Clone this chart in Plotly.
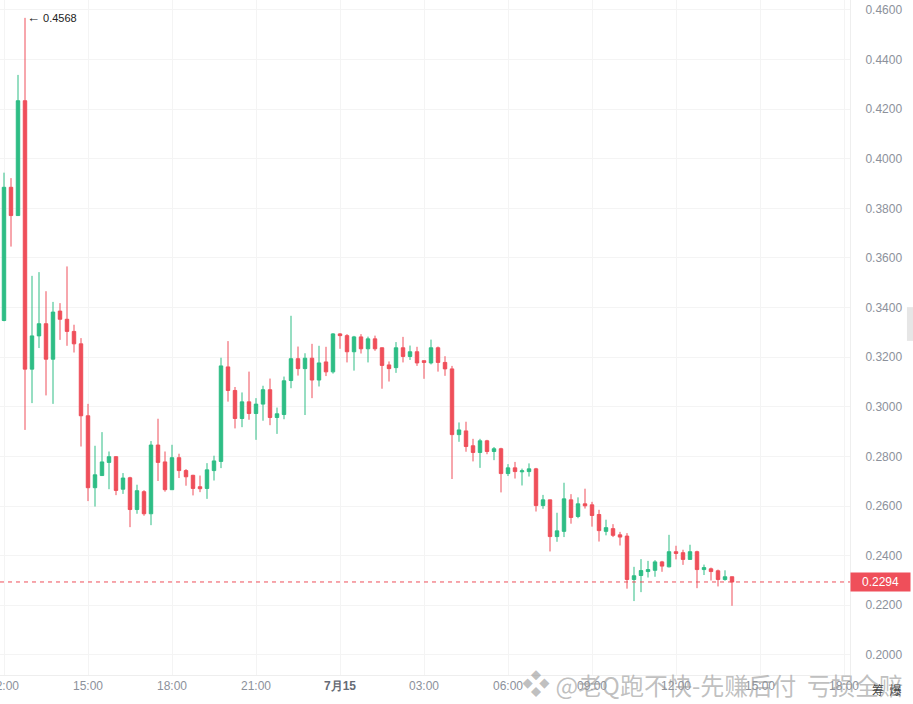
import pandas as pd
import plotly.graph_objects as go

# 15-minute candles, 14 Jul 12:00 -> 15 Jul 14:00
start_time = "2025-07-14 12:00"

opens = [0.3348, 0.3885, 0.3771, 0.4234, 0.3152, 0.3286, 0.3335, 0.3192, 0.3386, 0.3353,
         0.3304, 0.3254, 0.2964, 0.2674, 0.2723, 0.2776, 0.2799, 0.2668, 0.2714, 0.2586,
         0.2658, 0.2569, 0.2846, 0.2778, 0.2666, 0.2795, 0.2743, 0.2724, 0.2678, 0.2671,
         0.2743, 0.2780, 0.3161, 0.3066, 0.2953, 0.3020, 0.2973, 0.3011, 0.3069, 0.2957,
         0.2969, 0.3106, 0.3194, 0.3154, 0.3196, 0.3108, 0.3181, 0.3141, 0.3294, 0.3287,
         0.3222, 0.3282, 0.3234, 0.3274, 0.3238, 0.3169, 0.3158, 0.3238, 0.3203, 0.3222,
         0.3186, 0.3177, 0.3238, 0.3179, 0.3153, 0.2888, 0.2903, 0.2843, 0.2816, 0.2863,
         0.2820, 0.2831, 0.2731, 0.2754, 0.2738, 0.2739, 0.2750, 0.2602, 0.2625, 0.2477,
         0.2498, 0.2625, 0.2558, 0.2609, 0.2605, 0.2566, 0.2498, 0.2509, 0.2484, 0.2479,
         0.2304, 0.2320, 0.2336, 0.2341, 0.2375, 0.2355, 0.2416, 0.2412, 0.2385, 0.2416,
         0.2344, 0.2347, 0.2339, 0.2304, 0.2315]
highs = [0.3944, 0.3922, 0.4338, 0.4568, 0.3528, 0.3543, 0.3466, 0.3423, 0.3418, 0.3566,
         0.3331, 0.3277, 0.3012, 0.2843, 0.2898, 0.2820, 0.2801, 0.2733, 0.2718, 0.2686,
         0.2664, 0.2862, 0.2952, 0.2820, 0.2847, 0.2811, 0.2749, 0.2726, 0.2723, 0.2773,
         0.2803, 0.3198, 0.3265, 0.3080, 0.3058, 0.3142, 0.3035, 0.3085, 0.3114, 0.2997,
         0.3122, 0.3367, 0.3243, 0.3216, 0.3254, 0.3246, 0.3242, 0.3297, 0.3297, 0.3293,
         0.3286, 0.3293, 0.3283, 0.3287, 0.3239, 0.3183, 0.3261, 0.3282, 0.3247, 0.3242,
         0.3186, 0.3271, 0.3243, 0.3204, 0.3165, 0.2937, 0.2940, 0.2871, 0.2871, 0.2867,
         0.2838, 0.2835, 0.2769, 0.2778, 0.2751, 0.2772, 0.2754, 0.2645, 0.2625, 0.2573,
         0.2694, 0.2648, 0.2635, 0.2670, 0.2617, 0.2585, 0.2545, 0.2527, 0.2496, 0.2491,
         0.2355, 0.2386, 0.2379, 0.2382, 0.2379, 0.2484, 0.2440, 0.2424, 0.2444, 0.2420,
         0.2364, 0.2352, 0.2344, 0.2341, 0.2315]
lows = [0.3345, 0.3646, 0.3771, 0.2907, 0.3015, 0.3237, 0.3046, 0.3012, 0.3270, 0.3246,
        0.3219, 0.2840, 0.2620, 0.2598, 0.2723, 0.2668, 0.2644, 0.2649, 0.2515, 0.2569,
        0.2561, 0.2523, 0.2701, 0.2658, 0.2666, 0.2713, 0.2682, 0.2643, 0.2656, 0.2629,
        0.2703, 0.2753, 0.3021, 0.2913, 0.2918, 0.2948, 0.2867, 0.2944, 0.2926, 0.2891,
        0.2950, 0.3075, 0.3126, 0.2967, 0.3035, 0.3082, 0.3124, 0.3134, 0.3234, 0.3179,
        0.3146, 0.3215, 0.3179, 0.3226, 0.3073, 0.3102, 0.3137, 0.3179, 0.3189, 0.3165,
        0.3113, 0.3171, 0.3142, 0.3125, 0.2709, 0.2859, 0.2819, 0.2780, 0.2754, 0.2809,
        0.2785, 0.2655, 0.2721, 0.2711, 0.2683, 0.2719, 0.2578, 0.2589, 0.2417, 0.2456,
        0.2475, 0.2529, 0.2551, 0.2590, 0.2517, 0.2457, 0.2482, 0.2475, 0.2441, 0.2267,
        0.2217, 0.2253, 0.2312, 0.2315, 0.2335, 0.2353, 0.2385, 0.2363, 0.2385, 0.2269,
        0.2322, 0.2300, 0.2276, 0.2299, 0.2198]
closes = [0.3885, 0.3771, 0.4234, 0.3152, 0.3286, 0.3335, 0.3192, 0.3382, 0.3353, 0.3304,
          0.3254, 0.2964, 0.2674, 0.2726, 0.2778, 0.2799, 0.2663, 0.2713, 0.2586, 0.2662,
          0.2569, 0.2846, 0.2776, 0.2666, 0.2795, 0.2743, 0.2718, 0.2671, 0.2670, 0.2746,
          0.2782, 0.3165, 0.3066, 0.2953, 0.3020, 0.2973, 0.3011, 0.3069, 0.2957, 0.2972,
          0.3105, 0.3194, 0.3154, 0.3196, 0.3108, 0.3177, 0.3141, 0.3294, 0.3287, 0.3222,
          0.3282, 0.3234, 0.3274, 0.3234, 0.3167, 0.3154, 0.3238, 0.3203, 0.3222, 0.3177,
          0.3179, 0.3238, 0.3179, 0.3153, 0.2888, 0.2907, 0.2840, 0.2816, 0.2863, 0.2820,
          0.2831, 0.2731, 0.2754, 0.2739, 0.2742, 0.2750, 0.2602, 0.2625, 0.2477, 0.2500,
          0.2629, 0.2554, 0.2609, 0.2601, 0.2562, 0.2501, 0.2513, 0.2482, 0.2475, 0.2304,
          0.2319, 0.2340, 0.2344, 0.2375, 0.2358, 0.2416, 0.2409, 0.2385, 0.2416, 0.2344,
          0.2352, 0.2336, 0.2304, 0.2315, 0.2294]

price_ticks = [0.20, 0.22, 0.24, 0.26, 0.28, 0.30, 0.32, 0.34, 0.36, 0.38, 0.40, 0.42, 0.44, 0.46]
time_ticks = ["2025-07-14 12:00", "2025-07-14 15:00", "2025-07-14 18:00", "2025-07-14 21:00",
              "2025-07-15 00:00", "2025-07-15 03:00", "2025-07-15 06:00", "2025-07-15 09:00",
              "2025-07-15 12:00", "2025-07-15 15:00", "2025-07-15 18:00"]
time_labels = ["12:00", "15:00", "18:00", "21:00",
               "<b><span style='color:#666b75'>7月15</span></b>",
               "03:00", "06:00", "09:00", "12:00", "15:00", "18:00"]
last_price = 0.2294
peak_price = 0.4568

UP = "#2ebd85"
DOWN = "#ef4f5a"

times = pd.date_range(start_time, periods=len(opens), freq="15min")

fig = go.Figure(go.Candlestick(
    x=times, open=opens, high=highs, low=lows, close=closes,
    increasing=dict(line=dict(color=UP, width=1), fillcolor=UP),
    decreasing=dict(line=dict(color=DOWN, width=1), fillcolor=DOWN),
    hoverinfo="skip", showlegend=False
))

# last price dashed line + tag on the axis
fig.add_shape(type="line", xref="paper", x0=0, x1=1, y0=last_price, y1=last_price,
              line=dict(color=DOWN, width=1, dash="4px,4px"))
fig.add_annotation(xref="paper", x=1, y=last_price, xanchor="left", yanchor="middle",
                   text="0.2294", showarrow=False, bgcolor=DOWN, width=57, height=16,
                   font=dict(color="white", size=12, family="Liberation Sans"))

# max marker
fig.add_annotation(x=times[3], y=peak_price, xanchor="left", yanchor="middle", xshift=0,
                   text="<span style='font-size:13px'>←</span> 0.4568", showarrow=False,
                   font=dict(color="#222", size=11, family="Liberation Sans"))

# watermark
fig.add_annotation(xref="paper", yref="paper", x=1.065, y=-0.012, xanchor="right", yanchor="middle",
                   text="<span style='font-size:28px'>❖</span> @老Q跑不快-先赚后付  亏损全赔",
                   showarrow=False,
                   font=dict(color="rgba(150,150,150,0.6)", size=24, family="Noto Sans CJK SC"))
fig.add_annotation(xref="paper", yref="paper", x=1.062, y=-0.022, xanchor="right", yanchor="middle",
                   text="筹  爆", showarrow=False,
                   font=dict(color="#444", size=12, family="Noto Sans CJK SC"))

# small side handle on the right edge
fig.add_shape(type="rect", xref="paper", yref="paper", x0=1.067, x1=1.08, y0=0.495, y1=0.545,
              fillcolor="#e6e6e6", line=dict(width=0))

fig.update_layout(
    width=913, height=704,
    margin=dict(l=0, r=63, t=0, b=29),
    paper_bgcolor="white", plot_bgcolor="white",
    font=dict(family="Liberation Sans", size=12, color="#8c919b"),
    xaxis=dict(
        range=["2025-07-14 11:51:26", "2025-07-15 18:12:51"],
        rangeslider=dict(visible=False), automargin=False,
        tickvals=time_ticks, ticktext=time_labels, ticklabeloverflow="allow",
        showgrid=True, gridcolor="#f4f4f4", gridwidth=1,
        showline=True, linecolor="#eeeeee", ticks="", zeroline=False
    ),
    yaxis=dict(
        side="right", range=[0.1919, 0.4640], automargin=False,
        tickvals=price_ticks, ticktext=[f"{v:.4f}" for v in price_ticks],
        showgrid=True, gridcolor="#f4f4f4", gridwidth=1,
        showline=True, linecolor="#eeeeee", ticks="", ticklabelstandoff=12,
        ticklabeloverflow="allow", zeroline=False
    ),
)

# page body has a default 8px margin; drop it so the chart sits flush in the window
fig.write_html("out.html", config={"displayModeBar": False},
               post_script="document.body.style.margin='0px';")
